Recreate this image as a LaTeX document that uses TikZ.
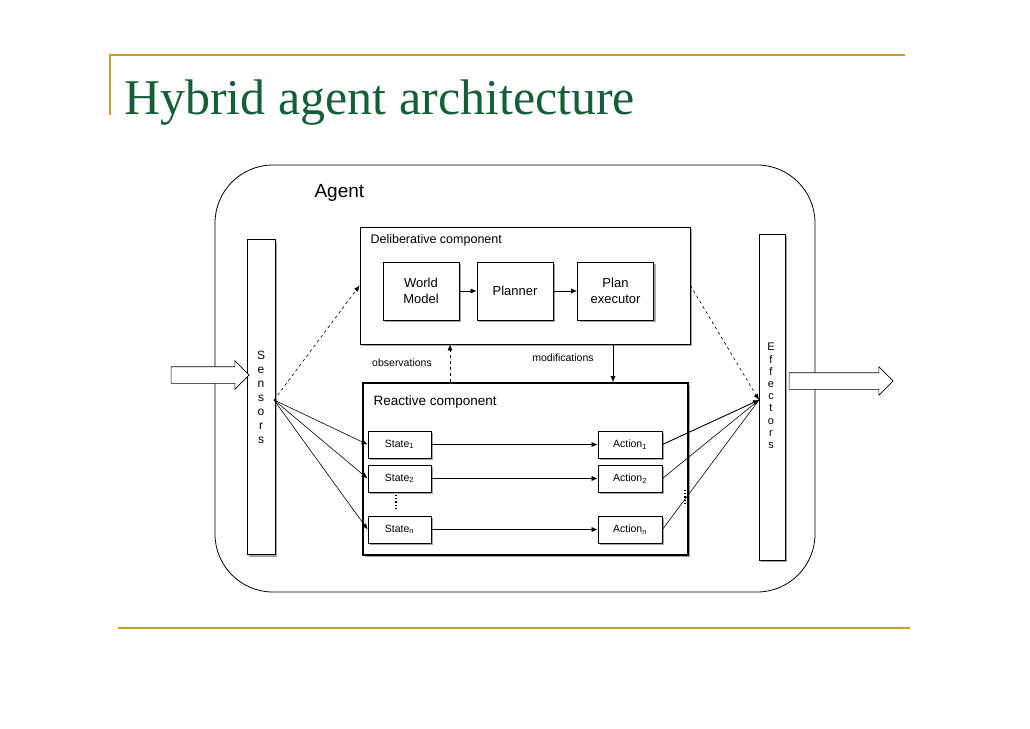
\documentclass[tikz,border=0pt]{standalone}
\usepackage{fontspec}
\setmainfont{Liberation Sans}
\newfontfamily\titlefont{Liberation Serif}
\usetikzlibrary{positioning,shadows,arrows.meta,shapes.arrows}
\definecolor{slidegold}{RGB}{200,160,40}
\definecolor{slidegreen}{RGB}{20,95,55}
\tikzset{
  box/.style = {draw, fill=white, line width=0.8pt, inner sep=0pt,
    drop shadow={shadow xshift=2pt, shadow yshift=-2pt, fill=gray!70, opacity=1}},
  small/.style = {box, minimum width=63pt, minimum height=27pt, font=\fontsize{10.5}{11}\selectfont},
  inner/.style = {box, minimum width=76pt, minimum height=58pt, align=center,
    font=\fontsize{13}{16}\selectfont},
  link/.style = {-{Latex[length=6pt,width=5pt]}, line width=0.6pt},
  dlink/.style = {link, dashed},
  fat/.style = {single arrow, draw, fill=white, minimum height=#1, minimum width=28pt,
    single arrow head extend=6pt, inner xsep=0pt, inner ysep=8pt, line width=0.6pt}
}
\begin{document}
\begin{tikzpicture}[x=1pt, y=-1pt]
  \useasboundingbox (0,0) rectangle (1030,728);

  % slide frame and title
  \draw[slidegold, line width=1.2pt] (110,115) -- (110,55) -- (905,55);
  \draw[slidegold, line width=1.2pt] (118,628) -- (910,628);
  \node[anchor=base west, inner sep=0pt, text=slidegreen, font=\titlefont\fontsize{50}{52}\selectfont]
    (title) at (124,114) {Hybrid agent architecture};

  % agent
  \draw[line width=0.8pt, rounded corners=58pt] (215,165) rectangle (815,592);
  \node[anchor=west, font=\fontsize{19}{20}\selectfont] (agent) at (311,193) {Agent};

  % sensors and effectors
  \node[box, minimum width=28pt, minimum height=315pt] (sens) at (261,397) {};
  \node[align=center, font=\fontsize{12}{14}\selectfont] at (261,397) {S\\e\\n\\s\\o\\r\\s};
  \node[box, minimum width=26pt, minimum height=326pt] (eff) at (772,397) {};
  \node[align=center, font=\fontsize{11}{12.2}\selectfont] at (771,396) {E\\f\\f\\e\\c\\t\\o\\r\\s};
  \node[fat=78pt] (inarrow) at (206,375) {};
  \node[fat=104pt] (outarrow) at (837,381) {};
  \coordinate (sp) at (274,400);
  \coordinate (ep) at (759,400);

  % deliberative component
  \node[box, minimum width=330pt, minimum height=117pt] (delib) at (525,285.5) {};
  \node[anchor=west, font=\fontsize{12.5}{13}\selectfont] (dlab) at (367,240) {Deliberative component};
  \node[inner] (world) at (421,291) {World\\Model};
  \node[inner] (plan) at (515,291) {Planner};
  \node[inner] (exec) at (615.5,291) {Plan\\executor};
  \draw[link] (world) -- (plan);
  \draw[link] (plan) -- (exec);

  % reactive component
  \node[box, line width=1.6pt, minimum width=325pt, minimum height=172pt] (react) at (525.5,469) {};
  \node[anchor=west, font=\fontsize{13.5}{14}\selectfont] (rlab) at (370,402) {Reactive component};
  \foreach \i/\y/\s in {1/444.5/1, 2/478.5/2, n/529.5/n} {
    \node[small] (st\i) at (399.5,\y) {State\textsubscript{\s}};
    \node[small, minimum width=64pt] (ac\i) at (630,\y) {Action\textsubscript{\s}};
    \draw[link] (st\i) -- (ac\i);
    \draw[link] (sp) -- (st\i.west);
    \draw[line width=0.6pt] (ac\i.east) -- (ep);
  }
  \draw[line width=1.2pt, dotted] (396,495) -- (396,510);
  \draw[line width=1.2pt, dotted] (685,490) -- (685,505);
  \draw[link] (ac1.east) -- (ep);

  % links between the layers
  \draw[dlink] (sp) -- (delib.west);
  \draw[dlink] (delib.east) -- (ep);
  \draw[dlink] (react.north -| 450,0) -- (delib.south -| 450,0);
  \draw[link] (delib.south -| 613,0) -- (react.north -| 613,0);
  \node[font=\fontsize{10.5}{11}\selectfont] (obs) at (402,363) {observations};
  \node[font=\fontsize{10.5}{11}\selectfont] (mods) at (563,358) {modifications};
\end{tikzpicture}
\end{document}
